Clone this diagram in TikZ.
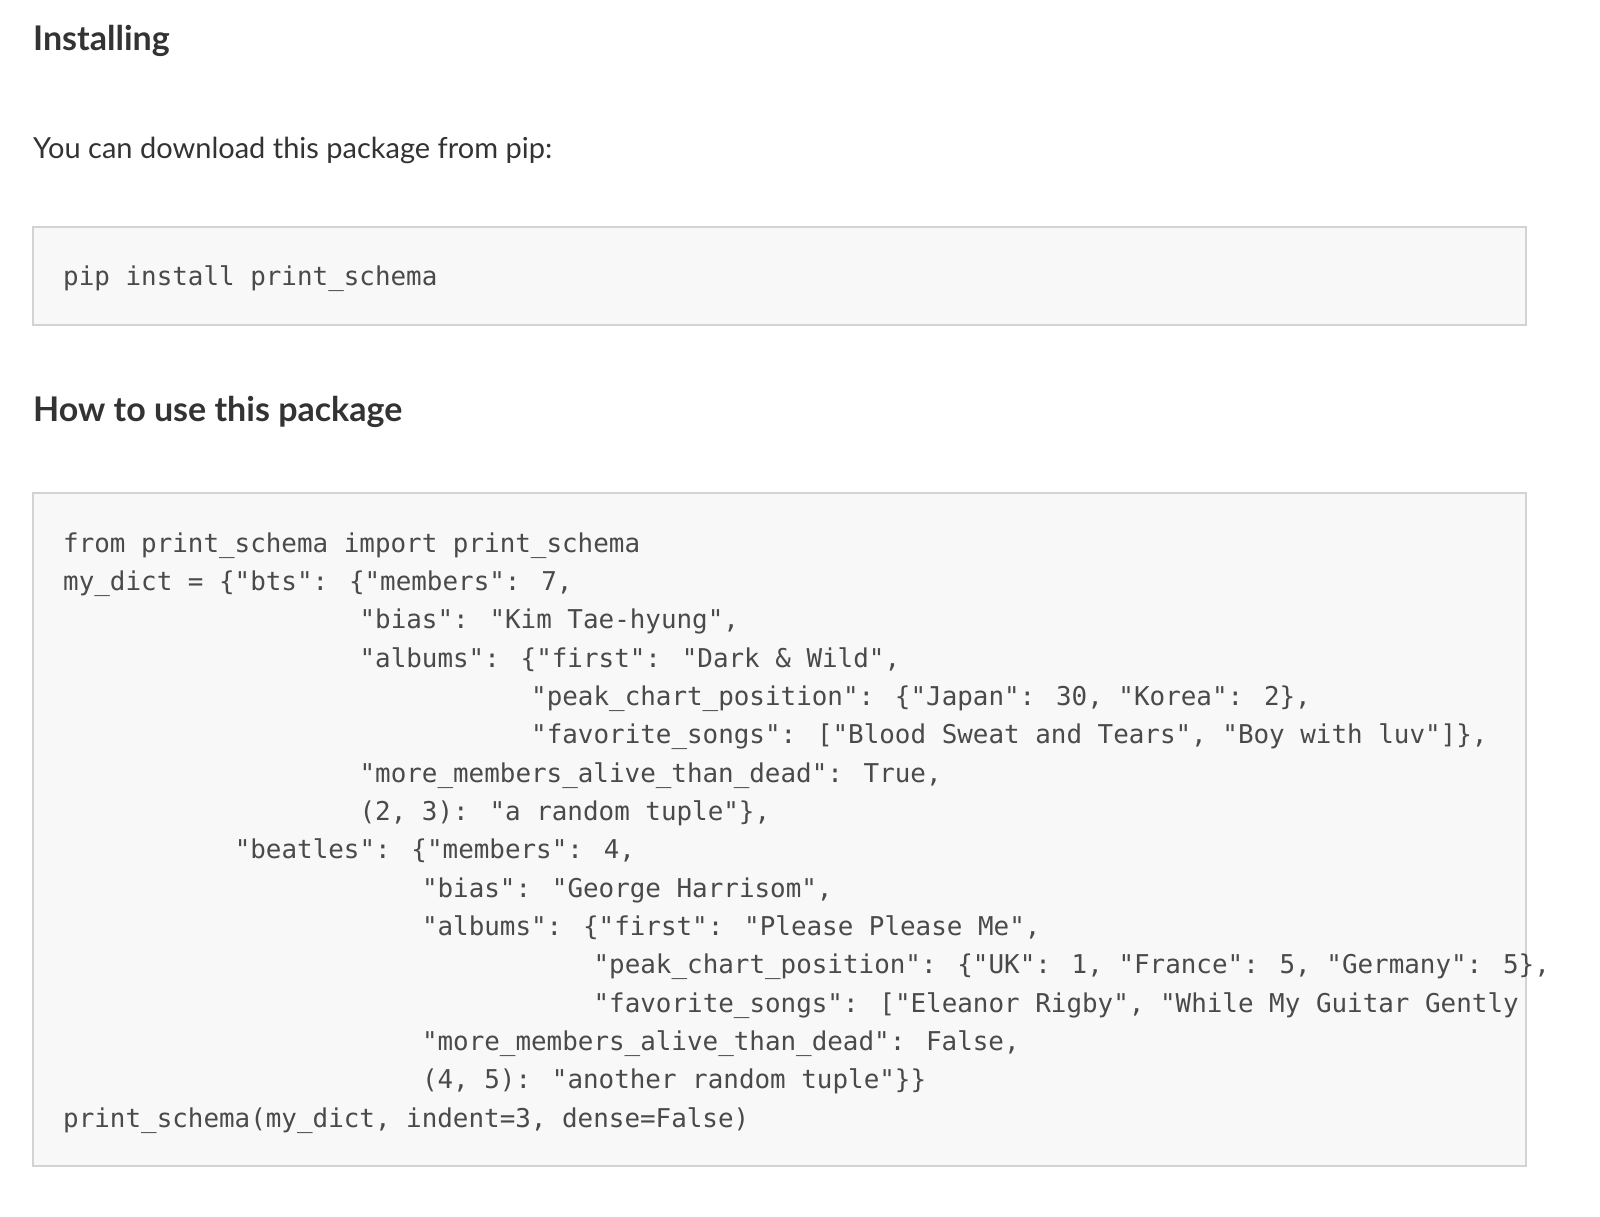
\documentclass[tikz,border=0pt]{standalone}
\usepackage{fontspec}
\setmainfont{Lato}
\newfontfamily\codefont{DejaVu Sans Mono}
\definecolor{txt}{HTML}{333333}
\definecolor{code}{HTML}{4A4A4A}
\definecolor{boxfill}{HTML}{F8F8F8}
\definecolor{boxline}{HTML}{D3D3D3}
\begin{document}
\begin{tikzpicture}[x=1pt,y=-1pt,
  codeline/.style={anchor=base west,inner sep=0pt,text=code,font=\codefont\fontsize{25.9}{30}\selectfont},
  codebox/.style={draw=boxline,fill=boxfill,line width=1.5pt},
  heading/.style={anchor=base west,inner sep=0pt,text=txt,font=\fontsize{34}{40}\selectfont\bfseries},
  para/.style={anchor=base west,inner sep=0pt,text=txt,font=\fontsize{29}{32}\selectfont}]
\useasboundingbox (0,0) rectangle (1600,1216);
\fill[white] (0,0) rectangle (1600,1216);
\node[heading] (h1) at (33,50) {Installing};
\node[para] (p1) at (33,158) {You can download this package from pip:};
\draw[codebox] (33,227) rectangle (1526,325);
\node[codeline] (c0) at (63,285) {pip install print\_schema};
\node[heading] (h2) at (33,421) {How to use this package};
\draw[codebox] (33,493) rectangle (1526,1166);
\def\cw{15.6}
\node[codeline] (l1) at (63,552) {from print\_schema import print\_schema};
\node[codeline] (l2) at (63,590) {my\_dict = \{"bts": \{"members": 7,};
\node[codeline] (l3) at (63+19*\cw,628) {"bias": "Kim Tae-hyung",};
\node[codeline] (l4) at (63+19*\cw,667) {"albums": \{"first": "Dark \& Wild",};
\node[codeline] (l5) at (63+30*\cw,705) {"peak\_chart\_position": \{"Japan": 30, "Korea": 2\},};
\node[codeline] (l6) at (63+30*\cw,743) {"favorite\_songs": ["Blood Sweat and Tears", "Boy with luv"]\},};
\node[codeline] (l7) at (63+19*\cw,782) {"more\_members\_alive\_than\_dead": True,};
\node[codeline] (l8) at (63+19*\cw,820) {(2, 3): "a random tuple"\},};
\node[codeline] (l9) at (63+11*\cw,858) {"beatles": \{"members": 4,};
\node[codeline] (l10) at (63+23*\cw,897) {"bias": "George Harrisom",};
\node[codeline] (l11) at (63+23*\cw,935) {"albums": \{"first": "Please Please Me",};
\node[codeline] (l12) at (63+34*\cw,973) {"peak\_chart\_position": \{"UK": 1, "France": 5, "Germany": 5\},};
\node[codeline] (l13) at (63+34*\cw,1012) {"favorite\_songs": ["Eleanor Rigby", "While My Guitar Gently};
\node[codeline] (l14) at (63+23*\cw,1050) {"more\_members\_alive\_than\_dead": False,};
\node[codeline] (l15) at (63+23*\cw,1088) {(4, 5): "another random tuple"\}\}};
\node[codeline] (l16) at (63,1127) {print\_schema(my\_dict, indent=3, dense=False)};
\end{tikzpicture}
\end{document}
